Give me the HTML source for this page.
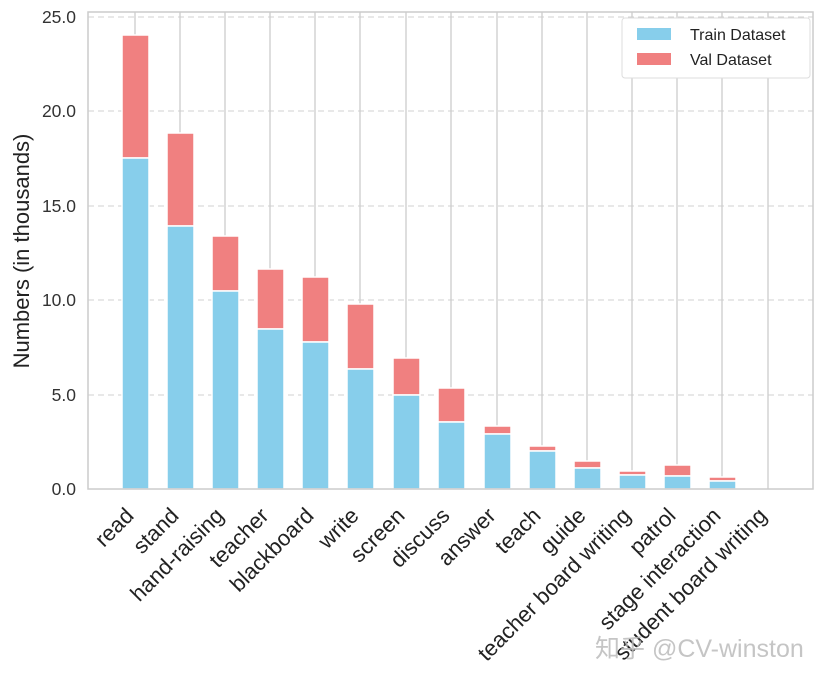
<!DOCTYPE html>
<html><head><meta charset="utf-8"><style>body{margin:0;background:#fff}svg{display:block}</style></head>
<body>
<svg width="825" height="680" xmlns="http://www.w3.org/2000/svg" font-family="Liberation Sans, DejaVu Sans, sans-serif">
<rect width="825" height="680" fill="#fff"/>
<g stroke="#d0d0d0" stroke-width="1" stroke-dasharray="6,4">
<line x1="88" x2="813" y1="17" y2="17"/><line x1="88" x2="813" y1="111" y2="111"/>
<line x1="88" x2="813" y1="206" y2="206"/><line x1="88" x2="813" y1="300" y2="300"/>
<line x1="88" x2="813" y1="395" y2="395"/>
</g>
<g stroke="#cccccc" stroke-width="1.3">
<line x1="135" x2="135" y1="12" y2="489"/><line x1="180" x2="180" y1="12" y2="489"/>
<line x1="225" x2="225" y1="12" y2="489"/><line x1="270" x2="270" y1="12" y2="489"/>
<line x1="315" x2="315" y1="12" y2="489"/><line x1="360" x2="360" y1="12" y2="489"/>
<line x1="406" x2="406" y1="12" y2="489"/><line x1="451" x2="451" y1="12" y2="489"/>
<line x1="497" x2="497" y1="12" y2="489"/><line x1="542" x2="542" y1="12" y2="489"/>
<line x1="587" x2="587" y1="12" y2="489"/><line x1="632" x2="632" y1="12" y2="489"/>
<line x1="677" x2="677" y1="12" y2="489"/><line x1="722" x2="722" y1="12" y2="489"/>
<line x1="768" x2="768" y1="12" y2="489"/>
</g>
<g stroke="#fff" stroke-width="1.5">
<rect x="122" y="35" width="27" height="123" fill="#f08080"/><rect x="122" y="158" width="27" height="331" fill="#87ceeb"/>
<rect x="167" y="133" width="27" height="93" fill="#f08080"/><rect x="167" y="226" width="27" height="263" fill="#87ceeb"/>
<rect x="212" y="236" width="27" height="55" fill="#f08080"/><rect x="212" y="291" width="27" height="198" fill="#87ceeb"/>
<rect x="257" y="269" width="27" height="60" fill="#f08080"/><rect x="257" y="329" width="27" height="160" fill="#87ceeb"/>
<rect x="302" y="277" width="27" height="65" fill="#f08080"/><rect x="302" y="342" width="27" height="147" fill="#87ceeb"/>
<rect x="347" y="304" width="27" height="65" fill="#f08080"/><rect x="347" y="369" width="27" height="120" fill="#87ceeb"/>
<rect x="393" y="358" width="27" height="37" fill="#f08080"/><rect x="393" y="395" width="27" height="94" fill="#87ceeb"/>
<rect x="438" y="388" width="27" height="34" fill="#f08080"/><rect x="438" y="422" width="27" height="67" fill="#87ceeb"/>
<rect x="484" y="426" width="27" height="8" fill="#f08080"/><rect x="484" y="434" width="27" height="55" fill="#87ceeb"/>
<rect x="529" y="446" width="27" height="5" fill="#f08080"/><rect x="529" y="451" width="27" height="38" fill="#87ceeb"/>
<rect x="574" y="461" width="27" height="7" fill="#f08080"/><rect x="574" y="468" width="27" height="21" fill="#87ceeb"/>
<rect x="619" y="471" width="27" height="4" fill="#f08080"/><rect x="619" y="475" width="27" height="14" fill="#87ceeb"/>
<rect x="664" y="465" width="27" height="11" fill="#f08080"/><rect x="664" y="476" width="27" height="13" fill="#87ceeb"/>
<rect x="709" y="477" width="27" height="4" fill="#f08080"/><rect x="709" y="481" width="27" height="8" fill="#87ceeb"/>
</g>
<rect x="88" y="12" width="725" height="477" fill="none" stroke="#cccccc" stroke-width="1.5"/>
<g font-size="17.5" fill="#333" text-anchor="end">
<text x="76" y="23">25.0</text><text x="76" y="117">20.0</text><text x="76" y="212">15.0</text>
<text x="76" y="306">10.0</text><text x="76" y="401">5.0</text><text x="76" y="495">0.0</text>
</g>
<text transform="translate(29,251) rotate(-90)" font-size="22" fill="#222" text-anchor="middle">Numbers (in thousands)</text>
<g font-size="22" fill="#222" text-anchor="end">
<text transform="translate(135,517) rotate(-45)">read</text>
<text transform="translate(180,517) rotate(-45)">stand</text>
<text transform="translate(225,517) rotate(-45)">hand-raising</text>
<text transform="translate(270,517) rotate(-45)">teacher</text>
<text transform="translate(315,517) rotate(-45)">blackboard</text>
<text transform="translate(360,517) rotate(-45)">write</text>
<text transform="translate(406,517) rotate(-45)">screen</text>
<text transform="translate(451,517) rotate(-45)">discuss</text>
<text transform="translate(497,517) rotate(-45)">answer</text>
<text transform="translate(542,517) rotate(-45)">teach</text>
<text transform="translate(587,517) rotate(-45)">guide</text>
<text transform="translate(632,517) rotate(-45)">teacher board writing</text>
<text transform="translate(677,517) rotate(-45)">patrol</text>
<text transform="translate(722,517) rotate(-45)">stage interaction</text>
<text transform="translate(768,517) rotate(-45)">student board writing</text>
</g>
<rect x="622" y="18" width="188" height="60" fill="#fff" stroke="#dddddd" rx="3"/>
<rect x="637" y="28" width="34" height="12" fill="#87ceeb"/>
<rect x="637" y="53" width="34" height="12" fill="#f08080"/>
<g font-size="16" fill="#222"><text x="690" y="40">Train Dataset</text><text x="690" y="65">Val Dataset</text></g>
<text x="595" y="657" font-size="25" fill="#bbb" fill-opacity="0.85" font-family="Liberation Sans, Noto Sans CJK SC, sans-serif">知乎 @CV-winston</text>
</svg>
</body></html>
